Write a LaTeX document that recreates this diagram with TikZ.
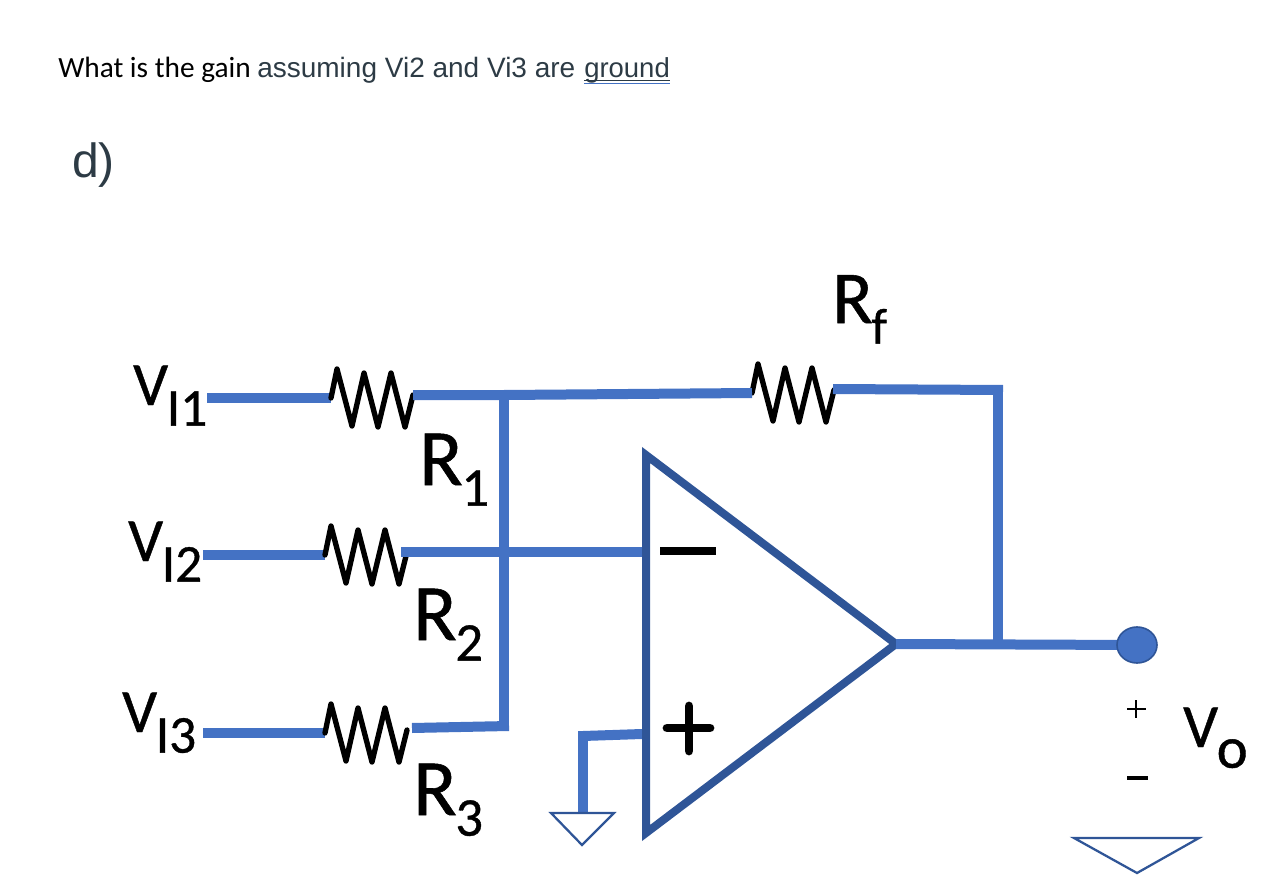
\documentclass[tikz,border=0pt]{standalone}
\usepackage{fontspec}
\setmainfont{Carlito}
\newfontfamily\arialfont{Liberation Sans}
\newfontfamily\labelfont[FakeBold=0.7]{Carlito}
\definecolor{wireblue}{HTML}{4472C4}
\definecolor{ampblue}{HTML}{2F5597}
\definecolor{slate}{HTML}{2D3B45}
\newcommand{\fsize}[1]{\fontsize{#1}{#1}\selectfont}
% letter with a lowered index
\newcommand{\sublabel}[4]{\labelfont\fsize{#1}#2\kern-1pt\raisebox{-15.5pt}{\fsize{#3}#4}}
\tikzset{
    wire/.style={line width=7.5pt, wireblue},
    amp/.style={line width=6pt, ampblue, line join=miter},
    gnd/.style={line width=1.7pt, ampblue, fill=white},
    res/.style={line width=4pt, black, line join=round, line cap=round},
    sign/.style={line width=6.6pt, black, line cap=round},
    lab/.style={inner sep=0pt, anchor=base west},
    pics/zigzag/.style={code={
        \draw[res] (0,0) -- (6,-29) -- (21,28) -- (33,-25) -- (47,29) -- (60,-25) -- (74,29) -- (82,-3);
    }}
}
\begin{document}
\begin{tikzpicture}[x=0.75pt,y=-0.75pt]
    \useasboundingbox (0,0) rectangle (1264,888);

    % 题目文字
    \node[lab, font=\fsize{22}] (q1) at (58,78) {What is the gain};
    \node[lab, font=\arialfont\fsize{21}, text=slate] (q2) at (257,78) {assuming Vi2 and Vi3 are};
    \node[lab, font=\arialfont\fsize{20.6}, text=slate] (q3) at (584,78) {ground};
    \node[lab, font=\arialfont\fsize{36}, text=slate] (part) at (72,178) {d)};
    \coordinate (U1) at (584,81);
    \coordinate (U2) at (670,81);
    \draw[slate, line width=0.75pt] (U1) -- (U2);
    \draw[wireblue, line width=0.75pt] ([yshift=-2pt]U1) -- ([yshift=-2pt]U2);

    % 输入端导线
    \coordinate (W1) at (207,398);
    \coordinate (W2) at (203,555);
    \coordinate (W3) at (203,733);
    \coordinate (S1) at (331,398);
    \coordinate (S2) at (325,555);
    \coordinate (S3) at (325,733);
    \draw[wire] (W1) -- (S1);
    \draw[wire] (W2) -- (S2);
    \draw[wire] (W3) -- (S3);

    % 电阻
    \pic at (S1) {zigzag};
    \pic at (S2) {zigzag};
    \pic at (S3) {zigzag};
    \coordinate (Fs) at (752,393);
    \pic at (Fs) {zigzag};

    % 汇流线
    \coordinate (E1) at (413,395);
    \coordinate (E2) at (401,552);
    \coordinate (E3) at (412,728);
    \coordinate (J1) at (504,395);
    \coordinate (J3) at (509,726);
    \coordinate (J3b) at (504,731);
    \coordinate (Neg) at (642,552);
    \coordinate (Fe) at (833,389);
    \coordinate (Fc) at (1003,390);
    \coordinate (Fd) at (998,385);
    \coordinate (Fj) at (998,645);
    \draw[wire] (E1) -- (J1) -- (Fs);
    \draw[wire] (J1) -- (J3b);
    \draw[wire] (E2) -- (Neg);
    \draw[wire] (E3) -- (J3);
    \draw[wire] (Fe) -- (Fc);
    \draw[wire] (Fd) -- (Fj);

    % 同相端接地
    \coordinate (Pos) at (642,734);
    \coordinate (Pg) at (583,736);
    \coordinate (Pb) at (583,813);
    \coordinate (Pt) at (583,731);
    \draw[wire] (Pos) -- (Pg);
    \draw[wire] (Pt) -- (Pb);
    \draw[gnd] (551,813) -- (614,813) -- (582,845) -- cycle;

    % 运放
    \coordinate (TA) at (646,455);
    \coordinate (TB) at (646,833);
    \coordinate (TC) at (896,644);
    \draw[amp] (TA) -- (TC) -- (TB) -- cycle;
    \draw[sign, line cap=butt, line width=5.5pt] (660,551) -- (716,551);
    \draw[sign] (667,728) -- (710,728);
    \draw[sign] (689,706) -- (689,751);

    % 输出
    \coordinate (Out) at (1137,645);
    \draw[wire] (TC) -- (Out);
    \draw[ampblue, line width=1.2pt, fill=wireblue] (Out) ellipse (20 and 18);
    \draw[line width=2pt] (1127,709) -- (1146,709);
    \draw[line width=2pt] (1136,700) -- (1136,718);
    \draw[line width=2.3pt] (1127,778) -- (1148,778);
    \draw[gnd] (1074,838) -- (1199,838) -- (1137,873) -- cycle;

    % 标记
    \node[lab] (v1) at (133,405) {\sublabel{46}{V}{40}{I1}};
    \node[lab] (v2) at (128,561) {\sublabel{46}{V}{40}{I2}};
    \node[lab] (v3) at (122,732) {\sublabel{46}{V}{40}{I3}};
    \node[lab] (r1) at (419,485) {\sublabel{60}{R}{41}{1}};
    \node[lab] (r2) at (413,640) {\sublabel{60}{R}{41}{2}};
    \node[lab] (r3) at (413,815) {\sublabel{60}{R}{41}{3}};
    \node[lab] (rf) at (832,323) {\sublabel{56}{R}{38}{f}};
    \node[lab] (vo) at (1183,747) {\sublabel{46}{V}{44}{o}};
\end{tikzpicture}
\end{document}
